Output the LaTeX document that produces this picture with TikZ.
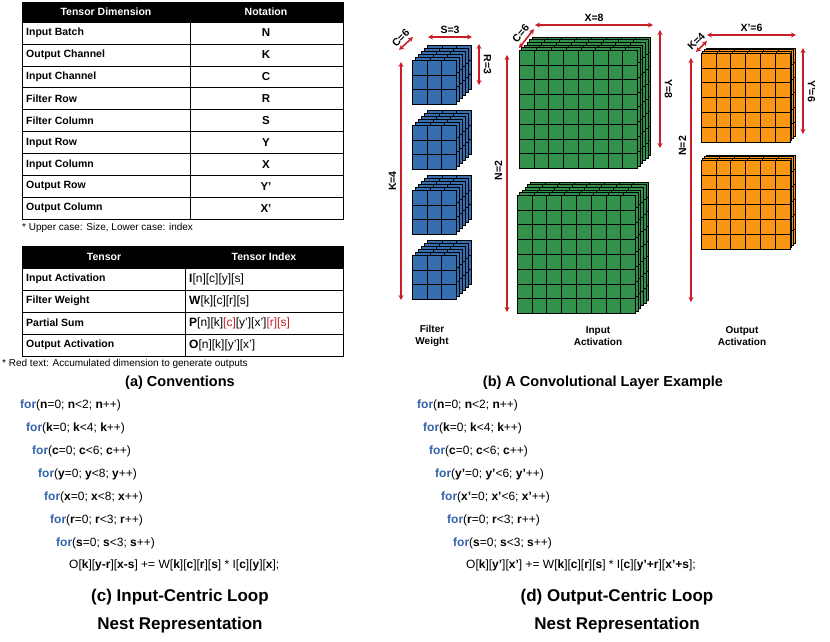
\documentclass[tikz,border=0pt]{standalone}
\usepackage{fontspec}
\usetikzlibrary{arrows.meta}
\setmainfont{Liberation Sans}
\begin{document}
\begin{tikzpicture}[x=1pt,y=-1pt,
  cell/.style={anchor=west,font=\fontsize{10.5}{12}\selectfont\bfseries,inner sep=0},
  hd/.style={font=\fontsize{10.5}{12}\selectfont\bfseries,text=white,inner sep=0},
  rarr/.style={draw={rgb,255:red,200;green,30;blue,40},line width=1.6pt,<->,>={Stealth[length=5pt,width=5pt]}},
  dim/.style={font=\fontsize{10.5}{12}\selectfont\bfseries,inner sep=0},
  captxt/.style={font=\fontsize{14.5}{17}\selectfont\bfseries,align=center},
  code/.style={anchor=west,font=\fontsize{12}{14}\selectfont,inner sep=0},
  lbl/.style={font=\fontsize{10}{12}\selectfont\bfseries,align=center}]
\useasboundingbox (0,0) rectangle (830,641);
\definecolor{rd}{RGB}{200,30,40}
\definecolor{kw}{RGB}{50,100,170}
\definecolor{bl}{RGB}{55,110,175}
\definecolor{gr}{RGB}{50,145,75}
\definecolor{orn}{RGB}{250,150,20}
\newcommand\kf{\textcolor{kw}{\textbf{for}}}
\newcommand\cstack[7]{%
  \foreach \l in {#5,...,0}{%
    \pgfmathsetmacro\ox{#1+\l*#7}\pgfmathsetmacro\oy{#2-\l*#7}%
    \fill[#6,draw=black!70,line width=.5pt] (\ox,\oy) rectangle ++(#3*#4,#3*#4);
    \foreach \i in {1,...,#3}{\draw[black,line width=.6pt] (\ox+\i*#4-#4,\oy) -- ++(0,#3*#4);
      \draw[black,line width=.6pt] (\ox,\oy+\i*#4-#4) -- ++(#3*#4,0);}
    \draw[black,line width=.6pt] (\ox,\oy) rectangle ++(#3*#4,#3*#4);
  }}
% Table 1
\fill (22,2) rectangle (343,22);
\node[hd] (h1) at (106,12) {Tensor Dimension};
\node[hd] (h2) at (266,12) {Notation};
\draw[line width=.6pt] (22,2) rectangle (343,219);
\draw[line width=.6pt] (190,2) -- (190,219);
\foreach \t/\v [count=\i] in {Input Batch/N,Output Channel/K,Input Channel/C,Filter Row/R,Filter Column/S,Input Row/Y,Input Column/X,Output Row/Y’,Output Column/X’}{
  \pgfmathsetmacro\yy{22+(\i-1)*21.9}
  \draw[line width=.6pt] (22,\yy) -- (343,\yy);
  \node[cell] (t1r\i) at (26,\yy+11) {\t};
  \node[font=\fontsize{11.5}{13}\selectfont\bfseries,inner sep=0] (t1v\i) at (266,\yy+11) {\v};
}
\node[anchor=west,inner sep=0,font=\fontsize{10}{12}\selectfont] (n1) at (22,228) {* Upper case: Size, Lower case: index};
% Table 2
\fill (22,246) rectangle (343,268);
\node[hd] (h3) at (104,257) {Tensor};
\node[hd] (h4) at (264,257) {Tensor Index};
\draw[line width=.6pt] (22,246) rectangle (343,356);
\draw[line width=.6pt] (185,246) -- (185,356);
\foreach \yy in {268,290,312,334}{\draw[line width=.6pt] (22,\yy) -- (343,\yy);}
\newcommand\ix{\fontsize{12}{14}\selectfont}
\node[cell] (r1) at (26,279) {Input Activation};
\node[cell] (r2) at (26,301) {Filter Weight};
\node[cell] (r3) at (26,323) {Partial Sum};
\node[cell] (r4) at (26,345) {Output Activation};
\node[code,font=\ix] (i1) at (189,279) {\textbf{I}[n][c][y][s]};
\node[code,font=\ix] (i2) at (189,301) {\textbf{W}[k][c][r][s]};
\node[code,font=\ix] (i3) at (189,323) {\textbf{P}[n][k]\textcolor{rd}{[c]}[y’][x’]\textcolor{rd}{[r][s]}};
\node[code,font=\ix] (i4) at (189,345) {\textbf{O}[n][k][y’][x’]};
\node[anchor=west,inner sep=0,font=\fontsize{10}{12}\selectfont] (n2) at (2,364) {* Red text: Accumulated dimension to generate outputs};
\node[captxt] (ca) at (180,383) {(a) Conventions};
\node[captxt] (cb) at (603,383) {(b) A Convolutional Layer Example};
% cubes
\cstack{412}{60}{3}{14.8}{5}{bl}{3}
\cstack{412}{125}{3}{14.8}{5}{bl}{3}
\cstack{412}{190}{3}{14.8}{5}{bl}{3}
\cstack{412}{255}{3}{14.8}{5}{bl}{3}
\cstack{519}{50}{8}{14.8}{5}{gr}{2.6}
\cstack{517}{195}{8}{14.8}{5}{gr}{2.6}
\cstack{701}{53}{6}{14.8}{3}{orn}{1.7}
\cstack{701}{160}{6}{14.8}{3}{orn}{1.7}
% dimension arrows
\coordinate (a1) at (401,62); \coordinate (a2) at (401,300);
\draw[rarr] (a1) -- (a2) node[dim,midway,rotate=90,above=4pt] {K=4};
\coordinate (a3) at (399,50); \coordinate (a4) at (413,37);
\draw[rarr] (a3) -- (a4) node[dim,midway,rotate=45,above=3pt] {C=6};
\coordinate (a5) at (428,37); \coordinate (a6) at (472,37);
\draw[rarr] (a5) -- (a6) node[dim,midway,above=3pt] {S=3};
\coordinate (a7) at (479,44); \coordinate (a8) at (479,85);
\draw[rarr] (a7) -- (a8) node[dim,midway,rotate=-90,above=4pt] {R=3};
\coordinate (b1) at (535,25); \coordinate (b2) at (653,25);
\draw[rarr] (b1) -- (b2) node[dim,midway,above=3pt] {X=8};
\coordinate (b3) at (519,48); \coordinate (b4) at (534,29);
\draw[rarr] (b3) -- (b4) node[dim,midway,rotate=50,above=3pt] {C=6};
\coordinate (b5) at (660,30); \coordinate (b6) at (660,148);
\draw[rarr] (b5) -- (b6) node[dim,midway,rotate=-90,above=4pt] {Y=8};
\coordinate (b7) at (507,55); \coordinate (b8) at (507,312);
\draw[rarr] (b7) -- (b8) node[dim,pos=0.45,rotate=90,above=4pt] {N=2};
\coordinate (c1) at (696,52); \coordinate (c2) at (707,41);
\draw[rarr] (c1) -- (c2) node[dim,midway,rotate=45,above=3pt] {K=4};
\coordinate (c3) at (707,35); \coordinate (c4) at (796,35);
\draw[rarr] (c3) -- (c4) node[dim,midway,above=3pt] {X’=6};
\coordinate (c5) at (803,48); \coordinate (c6) at (803,134);
\draw[rarr] (c5) -- (c6) node[dim,midway,rotate=-90,above=4pt] {Y’=6};
\coordinate (c7) at (691,58); \coordinate (c8) at (691,302);
\draw[rarr] (c7) -- (c8) node[dim,pos=0.36,rotate=90,above=4pt] {N=2};
\node[lbl] (l1) at (432,336) {Filter\\Weight};
\node[lbl] (l2) at (598,336) {Input\\Activation};
\node[lbl] (l3) at (742,336) {Output\\Activation};
% code (c)
\node[code] (p1) at (20,405) {\kf(\textbf{n}=0; \textbf{n}<2; \textbf{n}++)};
\node[code] (p2) at (26,428) {\kf(\textbf{k}=0; \textbf{k}<4; \textbf{k}++)};
\node[code] (p3) at (32,451) {\kf(\textbf{c}=0; \textbf{c}<6; \textbf{c}++)};
\node[code] (p4) at (38,474) {\kf(\textbf{y}=0; \textbf{y}<8; \textbf{y}++)};
\node[code] (p5) at (44,497) {\kf(\textbf{x}=0; \textbf{x}<8; \textbf{x}++)};
\node[code] (p6) at (50,520) {\kf(\textbf{r}=0; \textbf{r}<3; \textbf{r}++)};
\node[code] (p7) at (56,543) {\kf(\textbf{s}=0; \textbf{s}<3; \textbf{s}++)};
\node[code] (p8) at (69,565) {O[\textbf{k}][\textbf{y-r}][\textbf{x-s}] += W[\textbf{k}][\textbf{c}][\textbf{r}][\textbf{s}] * I[\textbf{c}][\textbf{y}][\textbf{x}];};
\node[captxt,font=\fontsize{17}{28}\selectfont\bfseries] (cc) at (180,611) {(c) Input-Centric Loop\\Nest Representation};
% code (d)
\node[code] (q1) at (417,405) {\kf(\textbf{n}=0; \textbf{n}<2; \textbf{n}++)};
\node[code] (q2) at (423,428) {\kf(\textbf{k}=0; \textbf{k}<4; \textbf{k}++)};
\node[code] (q3) at (429,451) {\kf(\textbf{c}=0; \textbf{c}<6; \textbf{c}++)};
\node[code] (q4) at (435,474) {\kf(\textbf{y’}=0; \textbf{y’}<6; \textbf{y’}++)};
\node[code] (q5) at (441,497) {\kf(\textbf{x’}=0; \textbf{x’}<6; \textbf{x’}++)};
\node[code] (q6) at (447,520) {\kf(\textbf{r}=0; \textbf{r}<3; \textbf{r}++)};
\node[code] (q7) at (453,543) {\kf(\textbf{s}=0; \textbf{s}<3; \textbf{s}++)};
\node[code] (q8) at (466,565) {O[\textbf{k}][\textbf{y’}][\textbf{x’}] += W[\textbf{k}][\textbf{c}][\textbf{r}][\textbf{s}] * I[\textbf{c}][\textbf{y’+r}][\textbf{x’+s}];};
\node[captxt,font=\fontsize{17}{28}\selectfont\bfseries] (cd) at (617,611) {(d) Output-Centric Loop\\Nest Representation};
\end{tikzpicture}
\end{document}
